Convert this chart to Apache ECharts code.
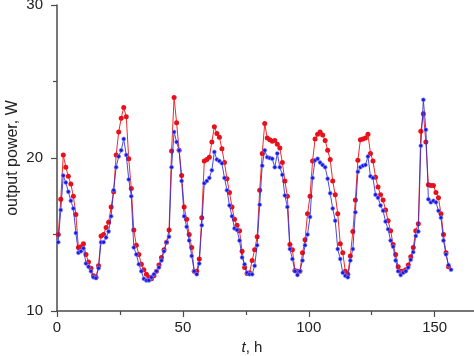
<!DOCTYPE html>
<html>
<head>
<meta charset="utf-8">
<script src="https://cdn.jsdelivr.net/npm/echarts@6/dist/echarts.min.js"></script>
<style>
html,body{margin:0;padding:0;background:#fff;}
#chart{width:474px;height:356px;}
</style>
</head>
<body>
<div id="chart"></div>
<script>
// sampling grid (hours)
const startHour = 0.5;
const stepHour = 1;

// red series (output power, W)
const redPower = [
15.0,17.3,20.2,19.4,18.8,18.3,17.5,16.3,14.15,14.2,
14.4,13.7,13.2,12.8,12.3,12.2,12.95,14.9,15.0,15.45,
15.8,16.8,17.8,20.2,21.7,22.6,23.3,22.7,19.95,18.0,
15.3,14.3,13.7,13.06,12.7,12.4,12.2,12.1,12.3,12.6,
13.0,13.5,14.0,14.5,15.3,20.45,23.95,22.3,20.5,18.85,
16.8,16.0,15.0,14.15,12.6,12.6,13.4,16.1,19.8,19.9,
20.05,21.05,22.05,21.6,21.35,20.6,19.7,18.65,17.75,16.8,
16.0,15.6,15.25,13.9,12.85,12.45,12.5,13.3,14.0,14.85,
17.9,20.3,22.25,21.3,21.2,21.1,21.15,20.9,20.65,19.7,
18.5,17.5,14.35,14.0,12.65,12.6,12.6,13.8,14.65,16.35,
17.5,19.8,21.25,21.55,21.7,21.5,21.15,20.5,19.9,18.5,
17.6,16.35,14.4,13.8,12.6,12.4,13.6,15.2,17.25,19.85,
21.2,21.25,21.3,21.55,20.3,19.8,18.75,18.1,17.6,17.25,
16.6,15.9,15.25,14.35,13.7,12.9,12.6,12.6,12.7,13.0,
13.55,14.15,15.25,15.7,21.75,22.9,21.05,18.25,18.2,18.2,
17.75,17.4,16.35,15.0,13.8,12.9
];

// blue series (output power, W)
const bluePower = [
14.5,16.6,18.85,18.4,17.8,17.2,16.7,15.1,13.8,13.9,
14.1,13.1,12.9,12.6,12.2,12.15,12.8,14.5,14.5,14.8,
15.2,16.2,17.9,19.4,20.1,20.5,21.25,20.2,18.6,17.5,
14.15,13.7,13.06,12.6,12.1,12.0,12.0,12.2,12.4,12.6,
12.85,13.3,13.9,14.5,14.85,19.4,21.7,21.05,20.5,18.5,
16.2,15.5,14.6,13.6,12.6,12.4,13.1,15.6,18.35,18.5,
18.7,19.2,20.4,19.9,19.8,19.65,18.7,17.9,16.9,16.2,
15.4,15.3,14.6,13.5,13.05,12.5,12.4,12.4,12.95,14.3,
16.95,19.5,20.5,20.05,20.0,19.95,19.4,20.3,19.4,18.9,
17.55,16.8,14.05,13.4,12.6,12.35,12.6,13.3,14.3,15.0,
16.15,18.7,19.85,19.95,19.7,19.55,19.4,18.65,17.7,16.7,
15.9,14.05,13.4,12.5,12.3,12.2,13.3,14.05,16.45,19.1,
19.4,19.5,19.55,20.1,18.8,18.7,17.6,17.4,16.9,16.55,
15.85,15.35,14.6,14.2,13.3,12.6,12.35,12.5,12.6,12.85,
13.35,13.85,14.9,15.2,20.8,23.8,21.85,17.3,17.1,17.2,
17.1,16.55,16.1,14.6,13.7,13.0,12.7
];

// axis ticks
const xMajorTicks = [0, 50, 100, 150];
const xMinorTicks = [25, 75, 125];
const yTicks = [10, 20, 30];

const pairs = arr => arr.map((v, i) => [startHour + i * stepHour, v]);

const font = 'Liberation Sans, Arial, Helvetica, sans-serif';
const axisColor = '#4a4a4a';
const textColor = '#222';

const chart = echarts.init(document.getElementById('chart'), null, {renderer: 'canvas'});
chart.setOption({
  animation: false,
  backgroundColor: '#fff',
  grid: {left: 57, right: -6, top: 5, bottom: 45, containLabel: false, outerBoundsMode: 'none'},
  xAxis: [{
    type: 'value', min: 0, max: 168, interval: 50,
    axisLine: {show: true, onZero: false, lineStyle: {color: axisColor, width: 1.5}},
    axisTick: {show: true, inside: false, length: 6, customValues: xMajorTicks, lineStyle: {color: axisColor, width: 1.2}},
    axisLabel: {show: true, customValues: xMajorTicks, margin: 9, color: textColor, fontSize: 15, fontFamily: font},
    splitLine: {show: false},
    name: '{i|t}, h',
    nameLocation: 'middle',
    nameGap: 29,
    nameMoveOverlap: false,
    nameTextStyle: {color: textColor, fontSize: 15, fontFamily: font, padding: [0, 33, 0, 0],
      rich: {i: {fontStyle: 'italic', fontSize: 15, fontFamily: font, color: textColor}}}
  }, {
    type: 'value', min: 0, max: 168, interval: 50, position: 'bottom',
    axisLine: {show: false},
    axisTick: {show: true, length: 4, customValues: xMinorTicks, lineStyle: {color: axisColor, width: 1.2}},
    axisLabel: {show: false},
    splitLine: {show: false}
  }],
  yAxis: {
    type: 'value', min: 10, max: 30, interval: 10,
    axisLine: {show: true, lineStyle: {color: axisColor, width: 1.5}},
    axisTick: {show: true, length: 6, lineStyle: {color: axisColor, width: 1.2}},
    minorTick: {show: true, splitNumber: 2, length: 4, lineStyle: {color: axisColor, width: 1.2}},
    axisLabel: {margin: 14, color: textColor, fontSize: 15, fontFamily: font,
      formatter: v => yTicks.includes(v) ? String(v) : ''},
    splitLine: {show: false},
    name: 'output power, W',
    nameLocation: 'middle',
    nameGap: 36,
    nameMoveOverlap: false,
    nameTextStyle: {color: textColor, fontSize: 16, fontFamily: font}
  },
  series: [{
    name: 'red', type: 'line', data: pairs(redPower),
    xAxisIndex: 0,
    symbol: 'circle', symbolSize: 5,
    lineStyle: {color: '#f02a2a', width: 1},
    itemStyle: {color: '#e8101a'},
    z: 2
  }, {
    name: 'blue', type: 'line', data: pairs(bluePower),
    xAxisIndex: 0,
    symbol: 'circle', symbolSize: 4,
    lineStyle: {color: '#2a2ad8', width: 1, opacity: 0.85},
    itemStyle: {color: '#1a1adf', borderColor: '#8f96ff', borderWidth: 0.6},
    z: 3
  }]
});
</script>
</body>
</html>
